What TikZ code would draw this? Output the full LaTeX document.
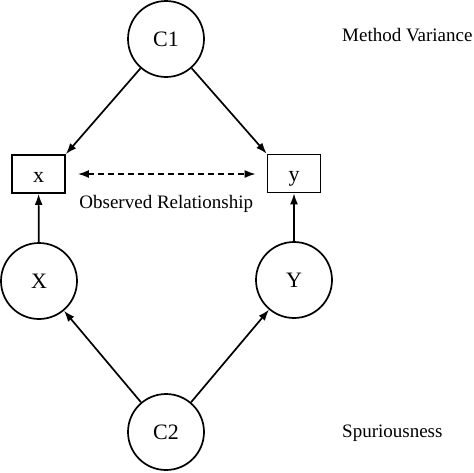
\documentclass[tikz,border=0pt]{standalone}
\usepackage{fontspec}
\setmainfont{Liberation Serif}
\usetikzlibrary{arrows.meta}

\tikzset{
	latent/.style={draw, circle, line width=1.7pt, minimum size=76pt, inner sep=0pt, font=\fontsize{22}{26}\selectfont},
	observed/.style={draw, rectangle, line width=1.7pt, minimum width=53pt, minimum height=38pt, inner sep=0pt, text height=16pt, text depth=0pt, font=\fontsize{22}{26}\selectfont},
	note/.style={font=\fontsize{19}{23}\selectfont, inner sep=0pt},
	path/.style={-{Latex[length=11pt,width=8pt]}, line width=1.7pt}
}

\begin{document}
\begin{tikzpicture}[x=1pt,y=-1pt]
	\useasboundingbox (0,0) rectangle (474,472);

	%% Latent variables
	\node [latent] (C1) at (166,39) {C1};
	\node [latent] (X) at (39,281) {X};
	\node [latent] (Y) at (294,280) {Y};
	\node [latent] (C2) at (166,432) {C2};

	%% Measures
	\node [observed] (x) at (38.5,174) {x};
	\node [observed] (y) at (294,173.5) {y};

	%% Side labels
	\node [note, anchor=west] (mv) at (342,35) {Method Variance};
	\node [note, anchor=west] (sp) at (342,433) {Spuriousness};

	%% Arrows
	\draw [path] (C1) -- (x.north east);
	\draw [path] (C1) -- (y.north west);
	\draw [path] (X) -- (x);
	\draw [path] (Y) -- (y);
	\draw [path] (C2) -- (X);
	\draw [path] (C2) -- (Y);

	%% Observed relationship
	\draw [{Latex[length=11pt,width=8pt]}-{Latex[length=11pt,width=8pt]}, line width=1.7pt, dash pattern=on 6pt off 4pt, shorten <=12pt, shorten >=11pt] (x.east) -- node [note, below=20pt] (obs) {Observed Relationship} (y.west |- x.east);
\end{tikzpicture}
\end{document}
